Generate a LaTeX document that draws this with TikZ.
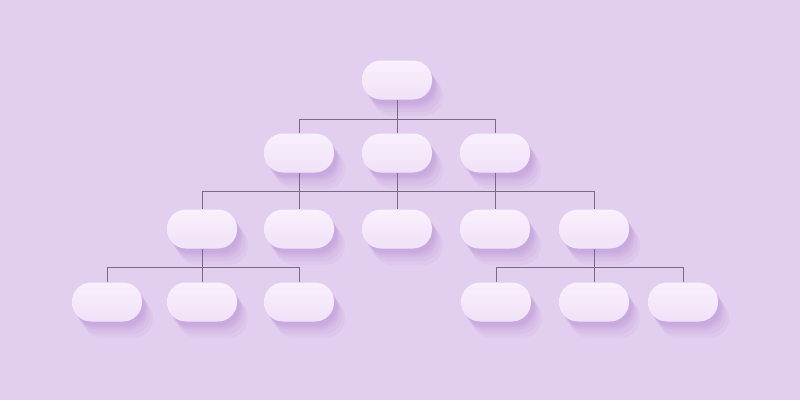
\documentclass[tikz,border=0pt]{standalone}
\usetikzlibrary{positioning,shadows}
\definecolor{bgpurple}{RGB}{226,206,238}
\definecolor{boxfill}{RGB}{246,234,251}
\definecolor{linkgray}{RGB}{122,106,132}
\definecolor{shadepurple}{RGB}{160,110,200}

\tikzset{
  softlayer/.style={general shadow={shadow xshift=#1*1.2pt, shadow yshift=-#1*1.8pt,
    shadow scale=1.0, fill=shadepurple, fill opacity=0.07}},
  box/.style={rectangle, rounded corners=19pt, minimum width=70pt, minimum height=39pt,
    inner sep=0pt, top color=boxfill!70!white, bottom color=boxfill!93!shadepurple,
    softlayer=9, softlayer=7, softlayer=5, softlayer=4, softlayer=3, softlayer=2},
  link/.style={draw=linkgray, line width=0.9pt}
}

\begin{document}
\begin{tikzpicture}[x=1pt,y=-1pt]
\fill[bgpurple] (0,0) rectangle (800,400);
\useasboundingbox (0,0) rectangle (800,400);

% top
\node[box] (top) at (397,80) {};
% second row
\node[box] (b1) at (299,153) {};
\node[box] (b2) at (397,153) {};
\node[box] (b3) at (495,153) {};
% third row
\node[box] (c1) at (202,229) {};
\node[box] (c2) at (299,229) {};
\node[box] (c3) at (397,229) {};
\node[box] (c4) at (495,229) {};
\node[box] (c5) at (594,229) {};
% bottom row
\node[box] (d1) at (107,302) {};
\node[box] (d2) at (202,302) {};
\node[box] (d3) at (299,302) {};
\node[box] (e1) at (496,302) {};
\node[box] (e2) at (594,302) {};
\node[box] (e3) at (683,302) {};

\coordinate (j1) at (397,119);
\coordinate (j2) at (397,191);
\coordinate (j3) at (202,267);
\coordinate (j4) at (594,267);

\draw[link] (top) -- (b2);
\draw[link] (j1) -| (b1);
\draw[link] (j1) -| (b3);

\draw[link] (b1) -- (c2);
\draw[link] (b2) -- (c3);
\draw[link] (b3) -- (c4);
\draw[link] (j2) -| (c1);
\draw[link] (j2) -| (c5);

\draw[link] (c1) -- (d2);
\draw[link] (j3) -| (d1);
\draw[link] (j3) -| (d3);
\draw[link] (c5) -- (e2);
\draw[link] (j4) -| (e1);
\draw[link] (j4) -| (e3);
\end{tikzpicture}
\end{document}
